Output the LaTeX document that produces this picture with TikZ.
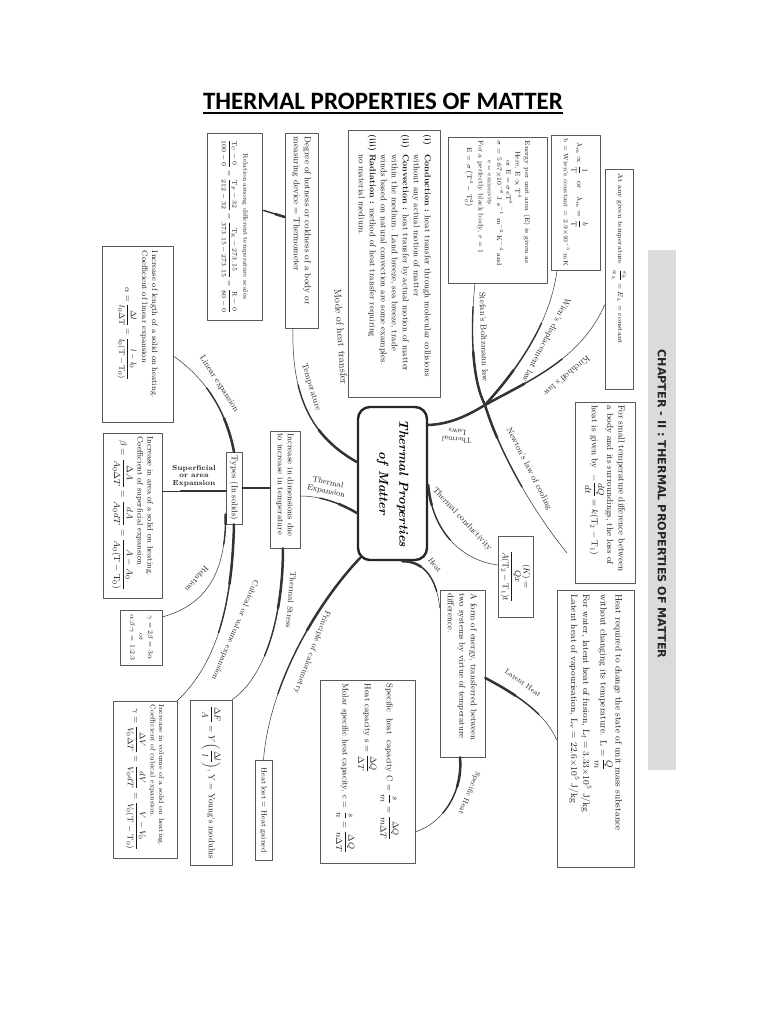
\RequirePackage{fix-cm}
\documentclass[tikz,border=0pt]{standalone}
\usepackage{fontspec}
\usepackage{amsmath}
\usepackage{graphicx}
\newfontfamily\titlefont{Carlito}
\newfontfamily\bandfont{DejaVu Sans}
\usetikzlibrary{calc}
\newcommand{\myfs}[2]{\fontsize{#1}{#2}\selectfont}
\newcommand{\rotpar}[2]{\rotatebox{-90}{\parbox{#1}{\raggedright #2}}}
\begin{document}
\begin{tikzpicture}[x=1pt,y=-1pt,line join=round,
  sbox/.style={draw=black!65, line width=0.6pt, fill=white, inner sep=0pt, text=black!90},
  lab/.style={inner sep=0pt, text=black!85},
  conn/.style={draw=black!80, line cap=round, line width=0.5pt},
  taper/.style 2 args={conn,
     preaction={draw=black!80, line cap=round, line width=1.4pt, dash pattern=on #1 off 3000pt},
     preaction={draw=black!80, line cap=round, line width=2.5pt, dash pattern=on #2 off 3000pt}}]
\useasboundingbox (0,0) rectangle (768,1024);
\fill[white] (0,0) rectangle (768,1024);

% title
\node[lab, text=black, font={\titlefont\bfseries\myfs{25}{28}}] (title) at (383,101) {THERMAL PROPERTIES OF MATTER};
\draw[line width=1.3pt] ($(title.base west)+(0,4)$) -- ($(title.base east)+(0,4)$);

% chapter band
\fill[black!14] (648,250) rectangle (676,770);
\node[lab, rotate=-90, font={\bandfont\bfseries\myfs{11.2}{12}}] (band) at (662,504) {CHAPTER - II : THERMAL PROPERTIES OF MATTER};

% central node
\node[draw=black!85, line width=2.4pt, rounded corners=12pt, fill=white, minimum width=69pt, minimum height=153pt, inner sep=0pt] (ctr) at (392.5,483.5)
 {\rotatebox{-90}{\parbox{140pt}{\centering\myfs{13}{20}\bfseries\itshape Thermal Properties\\ of Matter}}};

% boxes
\node[sbox, minimum width=92pt, minimum height=267pt] (cond) at (394,263.5) {\rotpar{257pt}{\myfs{8.6}{11}%
\begin{tabular}{@{}l@{\ }l@{}}
\textbf{(i)} & \textbf{Conduction :} heat transfer through molecular collisions\\
 & without any actual motion of matter\\
\textbf{(ii)} & \textbf{Convection :} heat transfer by actual motion of matter\\
 & within the medium. Land breeze, sea breeze, trade\\
 & winds based on natural convection are some examples.\\
\textbf{(iii)} & \textbf{Radiation :} method of heat transfer requiring\\
 & no material medium.
\end{tabular}}};

\node[sbox, minimum width=33pt, minimum height=195pt] (deg) at (301.5,230.5) {\rotpar{187pt}{\myfs{8.8}{11}Degree of hotness or coldness of a body or\\ measuring device = Thermometer}};

\node[sbox, minimum width=55pt, minimum height=187pt] (rel) at (234.5,226.5) {\rotpar{180pt}{\centering\myfs{6.6}{8}Relation among different temperature scales\par\vspace{4pt}
\resizebox{174pt}{!}{$\dfrac{\mathrm{T_C}-0}{100-0}=\dfrac{\mathrm{T_F}-32}{212-32}=\dfrac{\mathrm{T_K}-273.15}{373.15-273.15}=\dfrac{\mathrm{R}-0}{80-0}$}\par}};

\node[sbox, minimum width=99pt, minimum height=146pt] (stef) at (497.5,210) {\rotpar{138pt}{\myfs{6.8}{9.3}Energy per unit area (E) is given as\\
\hspace*{1.5em}Here, E $\propto$ T$^4$\\
\hspace*{2.8em}or E = $\sigma e$T$^4$\\
$\sigma$ = 5.67$\times$10$^{-8}$ J s$^{-1}$ m$^{-2}$ K$^{-4}$ and\\
\hspace*{2.8em}{\myfs{6}{7}e = emissivity}\\
For a perfectly black body, e = 1\\[2pt]
\hspace*{1em}E = $\sigma\left(\mathrm{T}^4-\mathrm{T}_0^4\right)$}};

\node[sbox, minimum width=49pt, minimum height=135pt] (wien) at (575.5,202.5) {\rotpar{128pt}{\myfs{7.5}{9}\hspace*{4pt}$\lambda_m\propto\dfrac{1}{\mathrm{T}}$\quad or\quad $\lambda_m=\dfrac{b}{\mathrm{T}}$\\[1pt]
{\myfs{6.3}{8}b = Wien's constant = 2.9$\times$10$^{-3}$ mK}}};

\node[sbox, minimum width=28pt, minimum height=220pt] (kirch) at (619,279) {\rotpar{210pt}{\myfs{7}{8}At any given temperature \ $\dfrac{e_\lambda}{a_\lambda}=E_\lambda$ = constant}};

\node[sbox, minimum width=60pt, minimum height=181pt] (newt) at (605,492.5) {\rotpar{174pt}{\myfs{8.9}{11.5}For small temperature difference between\\ a body and its surroundings, the loss of\\ heat is given by \ $-\dfrac{dQ}{dt}=k(\mathrm{T_2}-\mathrm{T_1})$}};

\node[sbox, minimum width=77pt, minimum height=277pt] (lat) at (595.5,728.5) {\rotpar{268pt}{\myfs{9.2}{12}Heat required to change the state of unit mass substance\\
without changing its temperature. L $=\dfrac{Q}{m}$\\[2pt]
For water, latent heat of fusion, L$_\mathrm{f}$ = 3.33$\times$10$^5$ J/kg\\
Latent heat of vapourisation, L$_\mathrm{v}$ = 22.6$\times$10$^5$ J/kg}};

\node[sbox, minimum width=35pt, minimum height=81pt] (kbox) at (515.5,576.5) {\rotpar{76pt}{\centering\myfs{8.5}{10}$(K)=\dfrac{Qx}{A(\mathrm{T_2}-\mathrm{T_1})t}$}};

\node[sbox, minimum width=45pt, minimum height=167pt] (hdef) at (462.5,673.5) {\rotpar{160pt}{\myfs{8.6}{11.5}A form of energy, transferred between\\ two systems by virtue of temperature\\ difference.}};

\node[sbox, minimum width=95pt, minimum height=183pt] (spec) at (367.5,771.5) {\rotpar{176pt}{\myfs{8.5}{10}Specific \ heat \ capacity C $=\dfrac{s}{m}=\dfrac{\Delta Q}{m\Delta T}$\\[3pt]
Heat capacity s $=\dfrac{\Delta Q}{\Delta T}$\\[3pt]
Molar specific heat capacity, c $=\dfrac{s}{n}=\dfrac{\Delta Q}{n\Delta T}$}};

\node[sbox, minimum width=17pt, minimum height=100pt] (lost) at (263.5,810) {\rotpar{95pt}{\centering\myfs{7.5}{9}Heat lost = Heat gained}};

\node[sbox, minimum width=42pt, minimum height=165pt] (young) at (211,782.5) {\rotpar{158pt}{\centering\myfs{8.5}{10}$\dfrac{\Delta F}{A}=Y\left(\dfrac{\Delta l}{l}\right)$, Y = Young's modulus}};

\node[sbox, minimum width=64pt, minimum height=157pt] (cubic) at (145,779.5) {\rotpar{150pt}{\myfs{7}{8.5}Increase in volume of a solid on heating.\\ Coefficient of cubical expansion.\par\vspace{3pt}
{\centering\resizebox{142pt}{!}{$\gamma=\dfrac{\Delta V}{V_0\Delta T}=\dfrac{dV}{V_0dT}=\dfrac{V-V_0}{V_0(\mathrm{T}-\mathrm{T_0})}$}\par}}};

\node[sbox, minimum width=42pt, minimum height=55pt] (ratio) at (141,637.5) {\rotpar{48pt}{\centering\myfs{7}{9}$\gamma=2\beta=3\alpha$\\ or\\ $\alpha{:}\beta{:}\gamma=1{:}2{:}3$}};

\node[sbox, minimum width=59pt, minimum height=165pt] (sup) at (132.5,515.5) {\rotpar{158pt}{\myfs{8}{10}Increase in area of a solid on heating.\\ Coefficient of superficial expansion\par\vspace{2pt}
{\centering\resizebox{150pt}{!}{$\beta=\dfrac{\Delta A}{A_0\Delta T}=\dfrac{dA}{A_0dT}=\dfrac{A-A_0}{A_0(\mathrm{T}-\mathrm{T_0})}$}\par}}};

\node[sbox, minimum width=71pt, minimum height=176pt] (lin) at (137.5,334) {\rotpar{166pt}{\myfs{8}{10}Increase of length of a solid on heating.\\ Coefficient of linear expansion\par\vspace{3pt}
{\centering $\alpha=\dfrac{\Delta l}{l_0\Delta \mathrm{T}}=\dfrac{l-l_0}{l_0(\mathrm{T}-\mathrm{T_0})}$\par}}};

\node[sbox, minimum width=16pt, minimum height=72pt] (types) at (234,488) {\rotpar{66pt}{\centering\myfs{8.5}{10}Types (In solids)}};

\node[sbox, minimum width=30pt, minimum height=117pt] (incr) at (285,489.5) {\rotpar{112pt}{\myfs{8.3}{10}Increase in dimensions due\\ to increase in temperature}};

% junctions
\coordinate (J) at (485,405);
\coordinate (nend) at (567,553);

% connectors
\draw[taper={100pt}{50pt}] ($(ctr.west)+(0,-21.5)$) .. controls (318,440) and (291,405) .. ($(deg.south)+(-8.5,0)$);
\draw[taper={200pt}{200pt}] ($(ctr.east)+(0,-58.5)$) .. controls (452,424) and (470,414) .. (J);
\draw[taper={100pt}{55pt}] (J) .. controls (472,380) and (470,330) .. ($(stef.south)+(-22.5,0)$);
\draw[taper={100pt}{45pt}] (J) .. controls (515,372) and (550,325) .. ($(wien.south)+(-18.5,0)$);
\draw[taper={90pt}{45pt}] (J) .. controls (530,380) and (580,360) .. ($(kirch.west)+(0,26)$);
\draw[taper={90pt}{35pt}] (J) .. controls (497,445) and (528,505) .. (nend);
\draw[taper={50pt}{20pt}] ($(ctr.south)+(9.5,0)$) .. controls (425,561) and (437,580) .. ($(hdef.west)+(0,-65.5)$);
\draw[taper={65pt}{35pt}] ($(hdef.east)+(0,4.5)$) .. controls (512,692) and (545,712) .. ($(lat.west)+(0,11.5)$);
\draw[taper={60pt}{30pt}] ($(hdef.south)+(-2.5,0)$) .. controls (463,790) and (445,822) .. ($(spec.east)+(0,60.5)$);
\draw[taper={60pt}{20pt}] ($(ctr.east)+(0,1.5)$) .. controls (432,530) and (460,560) .. ($(kbox.west)+(0,-11.5)$);
\draw[taper={160pt}{90pt}] ($(ctr.south west)+(3.5,-3.5)$) .. controls (320,600) and (270,680) .. (lost.north);
\draw[taper={40pt}{20pt}] ($(ctr.west)+(0,29.5)$) .. controls (340,503) and (320,496) .. ($(incr.east)+(0,6.5)$);
\draw[taper={110pt}{60pt}] ($(incr.south)+(-2,0)$) .. controls (283,610) and (268,675) .. ($(young.north)+(21,0)$);
\draw[conn, line width=1.6pt] (types.east) -- ($(incr.west)+(0,-1.5)$);
\draw[taper={70pt}{35pt}] (types.north) .. controls (226,410) and (205,378) .. ($(lin.east)+(0,22)$);
\draw[taper={45pt}{25pt}] ($(types.west)+(0,3)$) -- ($(sup.east)+(0,-24.5)$);
\draw[taper={30pt}{10pt}] ($(types.south west)+(0,-10)$) .. controls (226,575) and (205,605) .. ($(ratio.east)+(0,-20.5)$);
\draw[taper={110pt}{60pt}] (types.south) .. controls (232,610) and (215,665) .. (cubic.north east);
\draw[taper={22pt}{10pt}] ($(deg.west)+(0,-13.5)$) -- ($(rel.east)+(0,-16.5)$);

% branch labels
\node[lab, rotate=-86, font={\myfs{10}{12}}] (lmode) at (341,337) {Mode of heat transfer};
\node[lab, rotate=-73, font={\myfs{8.5}{10}}] (ltemp) at (311,387) {Temperature};
\node[lab, rotate=-12, align=center, font={\myfs{8}{8.5}}] (lexp) at (327,487) {Thermal\\Expansion};
\node[lab, rotate=175, align=center, font={\myfs{7.5}{8}}] (llaws) at (457,436) {Thermal\\Laws};
\node[lab, rotate=-88, font={\myfs{8.5}{10}}] (lstef) at (484,337) {Stefan's Boltzmann law};
\node[lab, rotate=-118, font={\myfs{8.5}{10}}] (lwien) at (546,340) {Wien's displacement law};
\node[lab, rotate=-140, font={\myfs{8.5}{10}}] (lkir) at (567,376) {Kirchhoff's law};
\node[lab, rotate=-63, font={\myfs{8.5}{10}}] (lnewt) at (529,469) {Newton's law of cooling};
\node[lab, rotate=-47, font={\myfs{8.5}{10}}] (lcond) at (462,519) {Thermal conductivity};
\node[lab, rotate=-52, font={\myfs{7.5}{9}}] (lheat) at (435,565) {Heat};
\node[lab, rotate=-35, font={\myfs{7.5}{9}}] (llat) at (523,683) {Latent Heat};
\node[lab, rotate=-113, font={\myfs{7.5}{9}}] (lspec) at (469,793) {Specific Heat};
\node[lab, rotate=-111, font={\myfs{8}{10}}] (lprin) at (312,652) {Principle of calorimetry};
\node[lab, rotate=-95, font={\myfs{8}{10}}] (lstress) at (291,600) {Thermal Stress};
\node[lab, rotate=-57, font={\myfs{8.5}{10}}] (llin) at (219,384) {Linear expansion};
\node[lab, align=center, font={\bfseries\myfs{7.3}{7.5}}] (lsup) at (194,476) {Superficial\\or area\\Expansion};
\node[lab, rotate=-130, font={\myfs{8}{10}}] (lrel) at (197,579) {Relation};
\node[lab, rotate=-113, font={\myfs{8}{10}}] (lcub) at (235,630) {Cubical or volume expansion};
\end{tikzpicture}
\end{document}
